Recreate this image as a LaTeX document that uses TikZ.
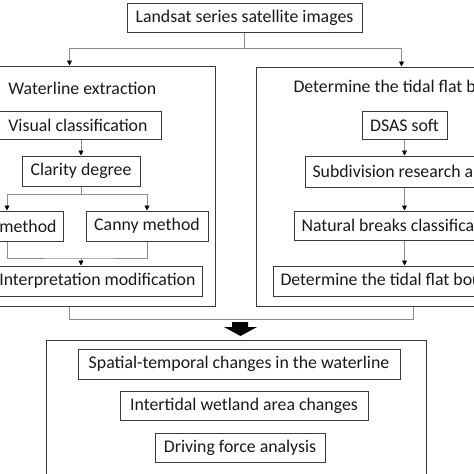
\documentclass[tikz,border=0pt]{standalone}
\usepackage{fontspec}
\setmainfont{Carlito}
\usepackage{xcolor}
\usepackage{tikz}
\usetikzlibrary{arrows.meta}
\definecolor{boxline}{HTML}{3A3A3A}
\definecolor{connline}{HTML}{8C8C8C}
\tikzstyle{box}=[draw=boxline, line width=1pt, rectangle, inner sep=0pt, text=black!90, font=\fontsize{17.8}{20}\selectfont]
\tikzstyle{frame}=[draw=boxline, line width=1pt, rectangle, inner sep=0pt]
\tikzstyle{cutleft}=[box, anchor=east, align=flush right, text width=170pt, inner xsep=7pt, minimum height=29pt]
\tikzstyle{cutright}=[box, anchor=west, align=flush left, text width=250pt, inner xsep=7pt, minimum height=29pt]
\tikzstyle{line}=[draw=connline, line width=0.9pt]
\tikzstyle{arr}=[line, -{Triangle[length=5pt, width=5pt, color=black]}]
\begin{document}
\begin{tikzpicture}[x=1pt, y=-1pt]
        \useasboundingbox (0,0) rectangle (474,474);
        \clip (0,0) rectangle (474,474);
        \node[box, minimum width=235pt, minimum height=29pt] (sat) at (244.5,17.5) {Landsat series satellite images};
        % two working frames
        \node[frame, minimum width=235pt, minimum height=240pt] (wlframe) at (97.5,186) {};
        \node[frame, minimum width=244pt, minimum height=239pt] (tfframe) at (378,186.5) {};
        \node[box, draw=none, anchor=west] (wltitle) at (8,88) {Waterline extraction};
        \node[box, draw=none, anchor=west] (tftitle) at (293,88) {Determine the tidal flat boundary};
        \draw[arr] (sat.south) -- ++(0,16) -| ([xshift=90pt]wlframe.north west);
        \draw[arr] (sat.south) -- ++(0,16) -| ([xshift=146pt]tfframe.north west);
        % waterline side
        \node[cutleft, text width=160pt, inner xsep=14pt, minimum height=28pt] (visual) at (162,125) {Visual classification};
        \node[box, minimum width=118pt, minimum height=30pt] (clarity) at (81,171) {Clarity degree};
        \node[cutleft, minimum height=30pt] (method) at (64,226) {method};
        \node[box, minimum width=122pt, minimum height=30pt] (canny) at (147,226) {Canny method};
        \node[cutleft, text width=220pt, minimum height=30pt] (interp) at (203,281) {Interpretation modification};
        \coordinate (merge) at (81,258);
        \draw[arr] (visual.south -| clarity.north) -- (clarity.north);
        \draw[arr] (clarity.south) -- ++(0,8) -| ([xshift=-57pt]method.north east);
        \draw[arr] (clarity.south) -- ++(0,8) -| (canny.north);
        \draw[line] ([xshift=-57pt]method.south east) |- (merge) -| (canny.south);
        \draw[arr] (merge) -- (interp.north -| merge);
        % tidal flat side
        \node[box, minimum width=85pt, minimum height=28pt] (dsas) at (404.5,125) {DSAS soft};
        \node[cutright, minimum height=31pt] (subdiv) at (305,171.5) {Subdivision research area};
        \node[cutright] (natural) at (294,225.5) {Natural breaks classification};
        \node[cutright, minimum height=30pt] (bound) at (273,281) {Determine the tidal flat boundary};
        \draw[arr] (dsas.south) -- (subdiv.north -| dsas.south);
        \draw[arr] (subdiv.south -| dsas.south) -- (natural.north -| dsas.south);
        \draw[arr] (natural.south -| dsas.south) -- (bound.north -| dsas.south);
        % join and result
        \draw[line] ([xshift=90pt]wlframe.south west) -- ++(0,13) -| ([xshift=158pt]tfframe.south west);
        \fill[black] (232,322) -- (248,322) -- (248,327) -- (257,327) -- (240.5,336) -- (224,327) -- (232,327) -- cycle;
        \node[frame, minimum width=380pt, minimum height=136pt] (result) at (236,408) {};
        \node[box, minimum width=322pt, minimum height=30pt] (spatial) at (239,364) {Spatial-temporal changes in the waterline};
        \node[box, minimum width=248pt, minimum height=29pt] (wetland) at (244,405.5) {Intertidal wetland area changes};
        \node[box, minimum width=170pt, minimum height=29pt] (driving) at (240,447.5) {Driving force analysis};
    \end{tikzpicture}
\end{document}
